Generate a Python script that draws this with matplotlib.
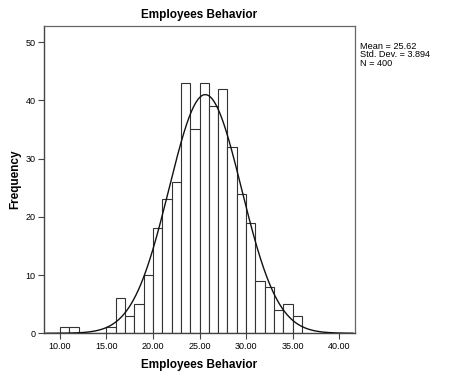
import numpy as np
import matplotlib
matplotlib.use("Agg")
import matplotlib.pyplot as plt

plt.rcParams['font.family'] = ['Liberation Sans', 'DejaVu Sans']

bin_left = [10, 11, 12, 13, 14, 15, 16, 17, 18, 19, 20, 21, 22, 23, 24, 25, 26, 27, 28, 29, 30, 31, 32, 33, 34, 35]
counts = [1, 1, 0, 0, 0, 1, 6, 3, 5, 10, 18, 23, 26, 43, 35, 43, 39, 42, 32, 24, 19, 9, 8, 4, 5, 3]
mean_val = 25.62
std_val = 3.894
n_val = 400
xticks = [10, 15, 20, 25, 30, 35, 40]
yticks = [0, 10, 20, 30, 40, 50]

fig = plt.figure(figsize=(4.74, 3.79), dpi=100)
ax = fig.add_axes([0.0928, 0.1206, 0.749 - 0.0928, 0.9314 - 0.1206])

ax.bar(bin_left, counts, width=1.0, align='edge', facecolor='white',
       edgecolor='#333333', linewidth=0.8, zorder=2)

xs = np.linspace(8.5, 41.5, 400)
pdf = n_val * 1.0 / (std_val * np.sqrt(2 * np.pi)) * np.exp(-0.5 * ((xs - mean_val) / std_val) ** 2)
ax.plot(xs, pdf, color='#111111', linewidth=1.0, zorder=3)

ax.set_xlim(8.28, 41.72)
ax.set_ylim(0, 52.76)
ax.set_xticks(xticks)
ax.set_xticklabels([f"{t:.2f}" for t in xticks], fontsize=6.5)
ax.set_yticks(yticks)
ax.set_yticklabels([str(t) for t in yticks], fontsize=6.5)
ax.tick_params(direction='out', length=4, width=0.8, color='#444444', pad=2)

for side in ['left', 'bottom']:
    ax.spines[side].set_color('#444444')
    ax.spines[side].set_linewidth(1.0)
for side in ['top', 'right']:
    ax.spines[side].set_color('#666666')
    ax.spines[side].set_linewidth(0.9)

ax.set_title('Employees Behavior', fontsize=8.5, fontweight='bold', pad=6)
ax.set_xlabel('Employees Behavior', fontsize=8.5, fontweight='bold', labelpad=6)
ax.set_ylabel('Frequency', fontsize=8.5, fontweight='bold', labelpad=3)

fig.text(0.759, 0.890, f"Mean = {mean_val}\nStd. Dev. = {std_val}\nN = {n_val}",
         fontsize=6.6, va='top', ha='left', linespacing=0.95)

fig.savefig('out.png', dpi=100)
